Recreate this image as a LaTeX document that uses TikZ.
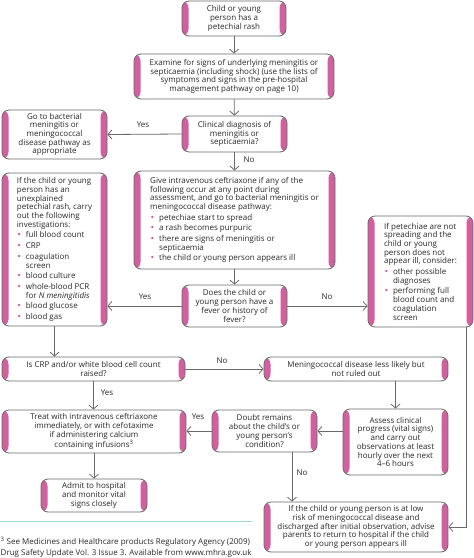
\documentclass[tikz,border=0pt]{standalone}
\usepackage{fontspec}
\setmainfont{Open Sans}
\newfontfamily\dotfont{DejaVu Sans}
\usetikzlibrary{arrows.meta}

\definecolor{bandpink}{RGB}{208,96,158}
\definecolor{linegray}{RGB}{105,105,105}
\definecolor{txtgray}{RGB}{40,40,40}
\definecolor{ruleteal}{RGB}{160,214,210}

\newcommand{\chartfont}{\fontsize{8}{8.7}\selectfont}
\newcommand{\notefont}{\fontsize{8}{11}\selectfont}
\newcommand{\pitem}[1]{\makebox[9pt][l]{\textcolor{bandpink}{\dotfont\symbol{"2022}}}#1}
\newcommand{\pcont}{\hspace*{9pt}}

\tikzset{
  flowbox/.style={draw=linegray, line width=0.8pt, rounded corners=7pt, fill=white,
    inner sep=0pt, align=center, font=\chartfont, text=txtgray,
    path picture={
      \fill[bandpink] (path picture bounding box.south west) rectangle ([xshift=6.5pt]path picture bounding box.north west);
      \fill[bandpink] (path picture bounding box.south east) rectangle ([xshift=-6.5pt]path picture bounding box.north east);
    }},
  listbox/.style={flowbox, align=left},
  flowarrow/.style={draw=linegray, line width=0.8pt, -{Straight Barb[length=4pt,width=9pt]}},
  answer/.style={font=\chartfont, text=txtgray, inner sep=1pt},
}

\begin{document}
\begin{tikzpicture}[x=1pt, y=-1pt]
  \useasboundingbox (0,0) rectangle (474,558);

  % boxes, top to bottom
  \node[flowbox, minimum width=104, minimum height=35] (rash) at (234,18.5) {Child or young\\person has a\\petechial rash};
  \node[flowbox, minimum width=200, minimum height=45] (examine) at (234,76.5) {Examine for signs of underlying meningitis or\\septicaemia (including shock) (use the lists of\\symptoms and signs in the pre-hospital\\management pathway on page 10)};
  \node[flowbox, minimum width=105, minimum height=36] (diagnosis) at (234.5,134) {Clinical diagnosis of\\meningitis or\\septicaemia?};
  \node[flowbox, minimum width=105, minimum height=49] (pathway) at (54.5,134.5) {Go to bacterial\\meningitis or\\meningococcal\\disease pathway as\\appropriate};
  \node[listbox, minimum width=105, minimum height=153] (investigate) at (54.5,249.5) {If the child or young\\person has an\\unexplained\\petechial rash, carry\\out the following\\investigations:\\[2pt]\pitem{full blood count}\\[2pt]\pitem{CRP}\\[2pt]\pitem{coagulation}\\\pcont screen\\[2pt]\pitem{blood culture}\\[2pt]\pitem{whole-blood PCR}\\\pcont for \emph{N meningitidis}\\[2pt]\pitem{blood glucose}\\[2pt]\pitem{blood gas}};
  \node[listbox, minimum width=201, minimum height=98] (ceftriaxone) at (234.5,220) {Give intravenous ceftriaxone if any of the\\following occur at any point during\\assessment, and go to bacterial meningitis or\\meningococcal disease pathway:\\[2pt]\pitem{petechiae start to spread}\\[2pt]\pitem{a rash becomes purpuric}\\[2pt]\pitem{there are signs of meningitis or}\\\pcont septicaemia\\[2pt]\pitem{the child or young person appears ill}};
  \node[flowbox, minimum width=105, minimum height=42] (fever) at (234.5,306) {Does the child or\\young person have a\\fever or history of\\fever?};
  \node[listbox, minimum width=105, minimum height=111] (consider) at (420.5,271.5) {If petechiae are not\\spreading and the\\child or young\\person does not\\appear ill, consider:\\[2pt]\pitem{other possible}\\\pcont diagnoses\\[2pt]\pitem{performing full}\\\pcont blood count and\\\pcont coagulation\\\pcont screen};
  \node[flowbox, minimum width=183, minimum height=24] (crp) at (93.5,369) {Is CRP and/or white blood cell count\\raised?};
  \node[flowbox, minimum width=184, minimum height=24] (lesslikely) at (356,369) {Meningococcal disease less likely but\\not ruled out};
  \node[flowbox, minimum width=184, minimum height=43] (treat) at (94,431.5) {Treat with intravenous ceftriaxone\\immediately, or with cefotaxime\\if administering calcium\\containing infusions\textsuperscript{3}};
  \node[flowbox, minimum width=105, minimum height=42] (doubt) at (264.5,431) {Doubt remains\\about the child's or\\young person's\\condition?};
  \node[flowbox, minimum width=105, minimum height=66] (assess) at (395.5,442) {Assess clinical\\progress (vital signs)\\and carry out\\observations at least\\hourly over the next\\4--6 hours};
  \node[flowbox, minimum width=106, minimum height=33] (admit) at (94,495.5) {Admit to hospital\\and monitor vital\\signs closely};
  \node[flowbox, minimum width=184, minimum height=50] (lowrisk) at (356,527) {If the child or young person is at low\\risk of meningococcal disease and\\discharged after initial observation, advise\\parents to return to hospital if the child\\or young person appears ill};

  % free ends
  \coordinate (doubtout) at (292,452);
  \coordinate (considerout) at (466,327);

  % connectors
  \draw[flowarrow] (rash) -- (examine);
  \draw[flowarrow] (examine) -- (diagnosis);
  \draw[flowarrow] (diagnosis.west) -- (pathway.east);
  \draw[flowarrow] (diagnosis) -- (ceftriaxone);
  \draw[flowarrow] (ceftriaxone) -- (fever);
  \draw[flowarrow] (fever.west) -- (fever.west -| investigate.east);
  \draw[flowarrow] (fever.east) -- (fever.east -| consider.west);
  \draw[flowarrow] (investigate.south) -- (investigate.south |- crp.north);
  \draw[flowarrow] (crp.east) -- (lesslikely.west);
  \draw[flowarrow] (crp.south) -- (crp.south |- treat.north);
  \draw[flowarrow] (assess.north |- lesslikely.south) -- (assess.north);
  \draw[flowarrow] (assess.west |- doubt.east) -- (doubt.east);
  \draw[flowarrow] (doubt.west) -- (doubt.west -| treat.east);
  \draw[flowarrow] (doubtout) -- (doubtout |- lowrisk.north);
  \draw[flowarrow] (treat.south) -- (treat.south |- admit.north);
  \draw[flowarrow] (considerout) -- (considerout |- lowrisk.east) -- (lowrisk.east);

  % answers
  \node[answer] (yes1) at (143,125) {Yes};
  \node[answer] (no1) at (249,160) {No};
  \node[answer] (yes2) at (145,297) {Yes};
  \node[answer] (no2) at (327,297) {No};
  \node[answer] (no3) at (222,361) {No};
  \node[answer] (yes3) at (107,393) {Yes};
  \node[answer] (yes4) at (198,417) {Yes};
  \node[answer] (no4) at (302,473) {No};

  % footnote
  \draw[ruleteal, line width=1pt] (0,521) -- (252,521);
  \node[anchor=west, align=left, font=\notefont, text=txtgray, inner sep=0pt] (footnote) at (0.5,547.5) {\textsuperscript{3} See Medicines and Healthcare products Regulatory Agency (2009)\\Drug Safety Update Vol. 3 Issue 3. Available from www.mhra.gov.uk};
\end{tikzpicture}
\end{document}
